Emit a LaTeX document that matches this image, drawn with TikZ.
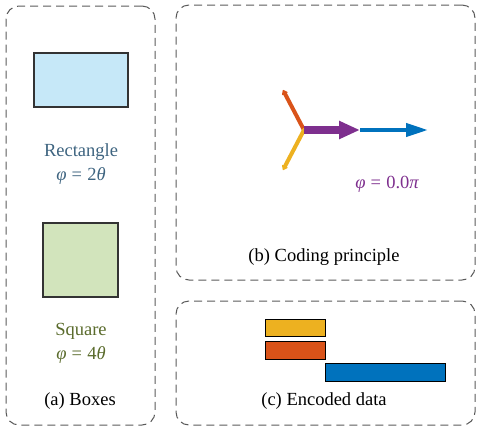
\documentclass[tikz,border=0pt]{standalone}
\usepackage{fontspec}
\setmainfont{Liberation Serif}
\usepackage{xcolor}
\definecolor{frameGray}{HTML}{5A5A5A}
\definecolor{boxInk}{HTML}{333333}
\definecolor{rectFill}{HTML}{C6E8F8}
\definecolor{sqFill}{HTML}{D2E4BC}
\definecolor{rectText}{HTML}{3E6480}
\definecolor{sqText}{HTML}{5A6B2C}
\definecolor{mYellow}{HTML}{EDB120}
\definecolor{mOrange}{HTML}{D95319}
\definecolor{mBlue}{HTML}{0072BD}
\definecolor{mPurple}{HTML}{7E2F8E}
\usepackage{tikz}
\usetikzlibrary{arrows.meta,positioning}
\newcommand{\gk}[1]{{\itshape #1}}
\newcommand{\eqs}{\hspace{0.28em}=\hspace{0.28em}}
\tikzset{
  panel/.style={draw=frameGray,line width=1pt,dash pattern=on 8pt off 5pt,
    rounded corners=13pt,inner sep=0pt},
  shapebox/.style={draw=boxInk,line width=1.2pt,inner sep=0pt},
  bar/.style={draw=black,line width=0.8pt,inner sep=0pt,anchor=north west},
  lbl/.style={font=\fontsize{18.5}{24}\selectfont,align=center},
  thinarrow/.style={line width=4pt,line cap=round,
    -{Triangle[length=5pt,width=7pt,round]}},
}

\begin{document}
\begin{tikzpicture}[x=1pt,y=-1pt]
  \useasboundingbox (0,0) rectangle (480,432);
  % panel frames
  \node[panel,minimum width=149pt,minimum height=419pt] (pa) at (80.5,215.5) {};
  \node[panel,minimum width=299pt,minimum height=275pt] (pb) at (325.5,142.5) {};
  \node[panel,minimum width=299pt,minimum height=124pt] (pc) at (325.5,363) {};
  % (a) boxes
  \node[shapebox,fill=rectFill,minimum width=94pt,minimum height=54pt] (rect) at (81,80) {};
  \node[lbl,text=rectText] (rectlbl) at (81,164) {Rectangle\\\gk{φ}\eqs2\gk{θ}};
  \node[shapebox,fill=sqFill,minimum width=75pt,minimum height=74pt] (sq) at (80.5,260) {};
  \node[lbl,text=sqText] (sqlbl) at (81,343) {Square\\\gk{φ}\eqs4\gk{θ}};
  \node[lbl] (capa) at (80,401) {(a) Boxes};
  % (b) coding principle
  \coordinate (o) at (304,130);
  \coordinate (tipO) at (283,90);
  \coordinate (tipY) at (283,170);
  \coordinate (tipP) at (360,130);
  \coordinate (tipB) at (428,130);
  \draw[thinarrow,mOrange] (o) -- (tipO);
  \draw[thinarrow,mYellow] (o) -- (tipY);
  \draw[mBlue,line width=4pt,-{Triangle[length=22pt,width=13pt]}] (tipP) -- (tipB);
  \draw[mPurple,line width=8pt,-{Triangle[length=21pt,width=17pt]}] (o) -- (tipP);
  \node[lbl,text=mPurple] (phib) at (387,184) {\gk{φ}\eqs0.0\gk{π}};
  \node[lbl] (capb) at (324,257) {(b) Coding principle};
  % (c) encoded data
  \node[bar,fill=mYellow,minimum width=60pt,minimum height=17pt] (barY) at (265,319) {};
  \node[bar,fill=mOrange,minimum width=60pt,minimum height=18pt] (barO) at (265,341) {};
  \node[bar,fill=mBlue,minimum width=120pt,minimum height=18pt] (barB) at (325,363) {};
  \node[lbl] (capc) at (324,401) {(c) Encoded data};
\end{tikzpicture}
\end{document}
